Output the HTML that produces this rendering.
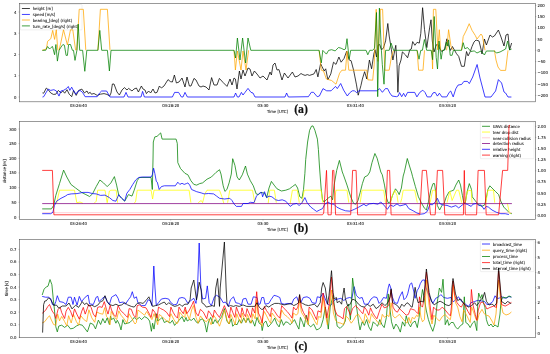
<!DOCTYPE html>
<html><head><meta charset="utf-8"><title>Figure</title>
<style>html,body{margin:0;padding:0;background:#fff}svg{display:block}text{stroke:#222;stroke-width:.1px}</style></head><body>
<svg width="550" height="354" viewBox="0 0 550 354" font-family="'DejaVu Sans','Liberation Sans',sans-serif" fill="#222">
<rect width="550" height="354" fill="#fff"/>
<g>
<polyline points="42.5,92.9 43.7,93.2 46.3,88.1 48.2,89.7 50.7,92.9 53.3,94.4 55.8,94.2 58.4,90.4 60.9,92.9 62.8,91.0 64.7,93.2 67.0,89.7 69.2,94.2 71.7,96.7 73.6,90.4 76.2,95.4 78.7,90.4 81.9,89.1 84.4,92.9 87.0,91.0 88.3,93.5 90.2,92.3 91.4,94.2 94.0,93.5 97.2,95.4 100.3,94.2 104.0,93.6 107.0,94.4 109.6,96.0 111.0,93.0 112.4,84.0 114.0,84.0 117.0,92.0 119.4,95.0 122.0,90.0 124.4,87.6 127.0,90.0 128.6,88.4 132.0,91.0 134.0,89.0 136.4,88.0 138.4,92.0 141.4,86.0 143.0,89.0 145.0,90.0 146.4,93.6 148.6,91.0 150.6,93.0 153.0,89.0 155.0,93.0 157.0,92.4 159.4,86.0 161.4,88.0 164.0,86.0 168.0,79.6 170.4,81.6 172.4,82.0 174.4,75.0 176.4,83.0 179.0,82.0 182.0,78.0 185.0,87.0 187.0,77.0 189.4,86.0 191.0,86.0 194.0,78.4 196.0,80.0 199.0,86.0 201.0,87.0 203.0,86.0 206.0,87.0 209.0,90.0 211.6,77.6 214.0,85.0 217.0,85.0 219.4,78.4 223.0,82.4 227.0,86.4 230.0,79.0 232.0,85.0 234.0,78.0 235.4,79.0 237.0,89.0 239.4,71.0 241.0,79.0 243.0,70.0 245.0,76.0 248.0,68.0 250.0,69.0 252.0,76.0 254.4,71.0 257.0,74.0 260.0,78.0 263.0,76.0 267.0,80.0 270.0,72.0 271.4,75.0 273.0,65.0 275.0,63.0 277.0,70.0 279.0,69.6 282.0,80.0 284.4,73.0 288.0,78.0 292.4,72.0 295.0,77.0 298.0,76.0 301.0,73.5 302.9,74.6 305.1,75.4 307.3,74.6 309.5,75.4 314.0,73.9 316.2,69.5 317.9,76.9 320.6,63.6 322.0,66.6 324.2,71.0 325.7,68.8 327.9,79.8 330.8,73.9 333.5,62.2 336.0,64.4 338.9,57.0 341.1,62.2 344.0,58.5 346.7,51.2 349.2,60.0 351.1,60.7 353.6,70.2 356.5,84.9 358.2,95.2 360.9,85.7 362.4,79.0 364.6,71.7 366.8,79.0 369.4,60.0 371.6,68.8 373.8,54.1 375.0,49.7 376.5,57.0 377.9,45.3 379.7,44.5 381.4,49.7 383.4,48.2 385.6,40.9 387.8,23.5 389.2,36.0 391.4,49.7 392.9,60.0 395.8,45.3 397.0,64.4 397.9,92.3 399.1,65.8 401.0,60.0 402.4,51.9 405.4,54.8 407.6,57.8 409.8,49.7 411.3,49.0 412.7,41.6 414.9,45.3 417.1,42.3 419.3,43.1 420.8,33.3 422.6,7.7 424.5,29.4 426.8,47.6 429.6,27.9 431.0,19.8 432.3,41.0 434.0,52.0 436.2,44.9 437.8,44.3 439.5,48.2 441.7,51.5 444.4,49.8 446.9,38.8 448.3,44.3 450.5,50.4 452.4,46.5 454.3,49.8 456.5,53.7 458.7,56.4 461.5,66.3 464.3,66.3 466.5,51.5 468.1,55.9 470.3,51.5 472.0,46.5 474.0,42.0 476.0,40.0 479.0,41.0 481.0,49.0 482.0,54.0 484.4,39.0 486.4,45.0 490.0,35.0 492.4,37.0 494.4,36.0 498.4,30.0 501.0,37.0 504.0,46.0 506.0,35.0 508.0,34.0 509.6,50.0 511.6,43.0" fill="none" stroke="#000000" stroke-width="0.75" stroke-linejoin="round"/>
<polyline points="42.5,97.0 43.7,96.7 45.9,92.9 48.2,89.1 50.7,90.4 53.9,89.7 56.4,91.0 59.0,96.1 60.9,91.0 63.4,90.4 66.2,88.8 68.3,86.5 69.8,90.4 71.7,87.2 73.6,91.0 75.8,94.2 77.7,91.6 80.0,90.4 82.5,92.3 85.1,96.7 97.2,96.7 99.7,92.9 101.6,91.0 106.6,91.0 110.0,97.0 124.0,97.0 126.0,92.4 128.0,97.0 141.0,97.0 142.6,91.4 144.4,97.0 172.4,97.0 174.6,92.4 178.6,92.4 181.4,97.0 183.0,97.0 185.0,92.4 187.4,97.0 234.0,97.0 235.6,93.0 237.4,97.0 239.0,97.0 241.4,92.4 243.0,95.0 245.0,92.4 248.0,88.4 251.0,92.4 253.0,93.0 255.0,97.0 285.0,97.0 286.6,93.0 288.4,97.0 308.4,96.7 311.3,92.3 313.5,92.3 317.2,96.7 319.4,96.0 323.0,88.6 326.7,90.8 331.1,90.8 335.5,86.4 337.3,88.6 340.7,83.5 343.6,90.1 347.3,96.0 349.5,93.0 352.3,90.8 354.6,90.8 356.4,92.6 359.0,90.8 377.3,90.8 379.5,88.6 382.4,92.3 385.4,88.6 387.6,88.6 389.8,93.0 392.0,96.0 396.4,96.7 398.2,96.0 399.6,92.6 401.7,96.7 403.6,93.3 405.4,96.7 407.6,92.4 414.7,92.4 416.9,96.9 419.8,92.4 422.8,90.2 425.0,92.4 427.2,96.9 430.8,96.9 433.0,92.9 435.2,92.4 437.4,96.1 439.4,93.2 441.9,96.9 446.7,96.9 449.2,92.4 450.7,91.0 453.2,96.9 455.8,88.8 458.0,85.1 461.7,84.4 463.9,81.4 467.5,81.4 469.3,83.6 472.7,77.0 477.1,64.5 480.0,78.0 485.0,97.0 491.0,97.0 494.0,93.0 495.6,91.0 498.4,79.6 501.6,83.0 504.0,92.0 505.6,93.0 508.0,97.0 511.4,97.0" fill="none" stroke="#0000ff" stroke-width="0.75" stroke-linejoin="round"/>
<rect x="19.5" y="3.3" width="515.8" height="98.5" fill="none" stroke="#555" stroke-width="0.6"/>
<path d="M18.5,97H19.5 M18.5,75.7H19.5 M18.5,54.5H19.5 M18.5,33.2H19.5 M18.5,12H19.5 M535.3,5.4H536.3 M535.3,16.6H536.3 M535.3,27.9H536.3 M535.3,39.1H536.3 M535.3,50.4H536.3 M535.3,61.6H536.3 M535.3,72.9H536.3 M535.3,84.1H536.3 M535.3,95.4H536.3 M78.4,101.8V102.8 M170.7,101.8V102.8 M263,101.8V102.8 M355.3,101.8V102.8 M447.6,101.8V102.8" stroke="#555" stroke-width="0.35" fill="none"/>
<text transform="translate(16.4,98.5) scale(0.93,1)" font-size="4.1" text-anchor="end" >0</text>
<text transform="translate(16.4,77.2) scale(0.93,1)" font-size="4.1" text-anchor="end" >1</text>
<text transform="translate(16.4,56.0) scale(0.93,1)" font-size="4.1" text-anchor="end" >2</text>
<text transform="translate(16.4,34.7) scale(0.93,1)" font-size="4.1" text-anchor="end" >3</text>
<text transform="translate(16.4,13.5) scale(0.93,1)" font-size="4.1" text-anchor="end" >4</text>
<text transform="translate(537.5,6.9) scale(0.93,1)" font-size="4.1" text-anchor="start" >200</text>
<text transform="translate(537.5,18.1) scale(0.93,1)" font-size="4.1" text-anchor="start" >150</text>
<text transform="translate(537.5,29.4) scale(0.93,1)" font-size="4.1" text-anchor="start" >100</text>
<text transform="translate(537.5,40.6) scale(0.93,1)" font-size="4.1" text-anchor="start" >50</text>
<text transform="translate(537.5,51.9) scale(0.93,1)" font-size="4.1" text-anchor="start" >0</text>
<text transform="translate(537.5,63.1) scale(0.93,1)" font-size="4.1" text-anchor="start" >−50</text>
<text transform="translate(537.5,74.4) scale(0.93,1)" font-size="4.1" text-anchor="start" >−100</text>
<text transform="translate(537.5,85.6) scale(0.93,1)" font-size="4.1" text-anchor="start" >−150</text>
<text transform="translate(537.5,96.9) scale(0.93,1)" font-size="4.1" text-anchor="start" >−200</text>
<text transform="translate(78.4,107.4) scale(0.93,1)" font-size="4.1" text-anchor="middle" >03:26:40</text>
<text transform="translate(170.7,107.4) scale(0.93,1)" font-size="4.1" text-anchor="middle" >03:28:20</text>
<text transform="translate(263.0,107.4) scale(0.93,1)" font-size="4.1" text-anchor="middle" >03:30</text>
<text transform="translate(355.3,107.4) scale(0.93,1)" font-size="4.1" text-anchor="middle" >03:31:40</text>
<text transform="translate(447.6,107.4) scale(0.93,1)" font-size="4.1" text-anchor="middle" >03:33:20</text>
<text transform="translate(277.4,112.7) scale(0.93,1)" font-size="4.1" text-anchor="middle" >Time [UTC]</text>
<rect x="20.3" y="4.5" width="61.7" height="25.4" rx="0.6" fill="#fff" fill-opacity="0.8" stroke="#ccc" stroke-width="0.3"/>
<path d="M21.900000000000002,8.5H29.9" stroke="#000000" stroke-width="0.75"/>
<text transform="translate(32.7,10.2) scale(0.93,1)" font-size="4.1" text-anchor="start" >height [m]</text>
<path d="M21.900000000000002,14.45H29.9" stroke="#0000ff" stroke-width="0.75"/>
<text transform="translate(32.7,16.2) scale(0.93,1)" font-size="4.1" text-anchor="start" >speed [m/s]</text>
<path d="M21.900000000000002,20.0H29.9" stroke="#ffa500" stroke-width="0.75"/>
<text transform="translate(32.7,21.7) scale(0.93,1)" font-size="4.1" text-anchor="start" >bearing_[deg] (right)</text>
<path d="M21.900000000000002,25.9H29.9" stroke="#008000" stroke-width="0.75"/>
<text transform="translate(32.7,27.6) scale(0.93,1)" font-size="4.1" text-anchor="start" >turn_rate_[deg/s] (right)</text>
<polyline points="42.4,50.3 46.4,48.9 47.6,41.3 50.8,38.7 52.7,30.4 54.6,39.4 56.3,29.8 57.8,50.3" fill="none" stroke="#ffa500" stroke-width="0.75" stroke-linejoin="round"/><polyline points="59.1,50.3 61.0,41.9 63.5,29.8 67.4,45.0 70.5,29.8 72.8,29.8 75.6,50.3" fill="none" stroke="#ffa500" stroke-width="0.75" stroke-linejoin="round"/><polyline points="76.9,50.3 79.2,9.3 83.3,9.3 85.8,50.3" fill="none" stroke="#ffa500" stroke-width="0.75" stroke-linejoin="round"/><polyline points="97.9,50.3 100.4,9.3 107.4,9.3 110.0,50.3" fill="none" stroke="#ffa500" stroke-width="0.75" stroke-linejoin="round"/><polyline points="234.0,50.3 235.4,70.0 237.4,51.0 241.0,70.0 243.0,51.0 246.0,70.0 248.6,50.3" fill="none" stroke="#ffa500" stroke-width="0.75" stroke-linejoin="round"/><polyline points="319.1,50.3 321.3,70.2 323.5,71.0 326.4,79.0 331.6,80.5 336.0,84.2 339.6,73.2 341.9,70.2 345.5,70.2 347.0,51.2 348.8,70.2 366.8,70.2 367.8,79.8 372.7,80.2 374.2,64.4 376.2,9.3 377.9,61.4 380.4,9.3 382.6,9.3 384.1,50.3 384.8,70.2 389.2,70.2 391.4,57.0 393.6,50.3" fill="none" stroke="#ffa500" stroke-width="0.75" stroke-linejoin="round"/><polyline points="417.1,50.3 418.6,70.2 423.0,70.2 424.5,50.3" fill="none" stroke="#ffa500" stroke-width="0.75" stroke-linejoin="round"/><polyline points="431.8,50.3 432.6,69.0 433.4,9.3 435.8,9.3 437.3,39.0 437.7,49.8 439.3,29.7 440.6,49.8 441.5,50.3" fill="none" stroke="#ffa500" stroke-width="0.75" stroke-linejoin="round"/><polyline points="446.6,50.3 448.6,29.7 451.0,46.5 453.2,50.3" fill="none" stroke="#ffa500" stroke-width="0.75" stroke-linejoin="round"/><polyline points="461.5,50.3 463.2,36.6 466.5,30.0 469.2,23.7 472.0,30.3 475.3,35.5 477.0,39.0 481.0,34.0 482.4,36.0 485.0,50.3" fill="none" stroke="#ffa500" stroke-width="0.75" stroke-linejoin="round"/><polyline points="494.4,50.3 496.0,60.0 498.0,67.0 500.5,70.4 505.6,70.4 508.0,50.3" fill="none" stroke="#ffa500" stroke-width="0.75" stroke-linejoin="round"/>
<polyline points="42.3,50.3 45.7,50.3 47.6,46.5 49.5,49.0 50.8,47.7 52.5,46.5 54.6,54.7 55.9,44.5 57.4,61.1 59.1,50.3 61.0,47.1 62.9,44.5 64.4,45.2 66.1,55.4 67.4,55.4 68.6,44.5 70.5,44.5 72.4,50.3 73.5,50.3 75.0,60.4 76.9,50.3 78.2,24.1 79.7,50.3 82.6,50.3 84.8,71.3 86.8,50.3 97.9,50.3 99.8,30.4 101.7,50.3 107.4,50.3 109.4,71.0 111.0,50.3 234.0,50.3 235.6,58.0 237.4,38.0 240.0,60.0 242.6,38.0 245.6,63.0 248.0,38.0 250.8,50.3 319.1,50.3 321.3,62.9 322.8,50.4 326.4,54.1 328.6,50.4 331.6,49.7 335.2,50.9 338.5,47.5 341.1,48.2 344.0,49.7 345.5,49.0 347.0,38.7 349.2,59.2 350.7,50.3 366.1,50.3 367.8,54.8 369.8,50.3 372.7,50.3 374.5,48.2 376.5,12.5 377.7,96.7 379.4,8.1 381.4,50.3 382.3,64.4 384.0,84.2 385.6,50.3 389.2,50.3 391.1,43.1 393.6,50.3 417.1,50.3 419.0,59.2 420.8,50.3 422.4,50.3 424.4,39.5 426.7,50.3 431.2,50.3 432.6,59.7 434.2,16.5 436.2,57.5 437.5,69.0 439.0,41.0 441.1,59.2 442.6,50.3 445.0,49.8 446.4,42.1 447.3,46.0 448.6,39.9 450.2,55.3 452.1,55.3 453.4,50.3 461.5,50.3 463.2,42.7 464.8,48.7 467.6,47.6 470.9,51.5 474.2,50.9 477.0,53.0 481.0,51.0 484.4,55.0 486.4,51.0 494.4,51.0 496.4,53.0 500.0,52.0 505.6,49.0 507.6,41.0 509.6,50.0 511.6,49.0" fill="none" stroke="#008000" stroke-width="0.75" stroke-linejoin="round"/>
<text x="301" y="112.5" font-family="'Liberation Serif','DejaVu Serif',serif" font-weight="bold" font-size="11.7" text-anchor="middle" fill="#111" style="stroke:#111;stroke-width:.2px">(a)</text>
</g>
<g>
<polyline points="42.2,208.9 51.4,208.9 53.6,205.6 55.8,195.4 59.5,183.6 63.6,170.1 66.8,177.0 70.9,184.4 75.6,188.0 81.5,192.4 85.9,194.6 89.6,196.5 92.5,193.9 96.2,186.6 99.9,180.0 103.5,182.9 107.2,186.6 110.9,182.9 114.4,176.6 116.6,185.1 118.8,195.4 121.7,198.3 124.7,201.2 128.4,194.6 132.0,196.1 134.2,190.2 137.2,180.7 139.4,177.5 151.1,177.5 152.3,189.5 153.0,160.0 153.3,142.0 154.8,136.9 157.0,136.4 160.7,132.9 162.1,139.1 176.1,139.1 177.3,143.5 177.8,162.6 180.5,168.5 184.9,173.3 187.9,174.8 190.9,180.7 193.8,184.4 196.7,185.1 199.7,183.6 202.6,182.9 207.0,179.2 211.4,177.0 215.8,172.6 219.5,169.7 221.0,174.1 223.2,185.8 224.9,191.4 226.9,189.5 229.1,182.9 231.3,174.1 232.7,158.7 234.9,165.3 237.1,177.0 239.3,180.0 242.3,174.8 245.5,166.0 247.4,174.1 250.3,180.7 253.3,185.8 256.2,193.9 258.4,194.6 260.9,192.4 264.5,193.2 266.7,197.6 269.0,188.0 271.4,181.4 274.1,185.1 277.0,188.8 281.4,191.0 285.8,190.2 289.5,188.8 292.4,186.6 295.4,184.4 297.6,188.0 299.8,196.8 302.0,198.3 303.5,189.5 304.9,173.3 305.7,159.6 307.6,142.0 309.6,130.3 311.5,126.2 313.0,125.9 314.9,130.3 317.4,139.1 318.4,149.4 319.3,164.0 319.8,171.0 321.1,188.0 322.5,199.8 324.0,202.0 327.9,198.3 330.9,196.1 332.6,199.8 334.1,185.1 336.7,170.4 339.4,160.4 342.3,172.0 343.4,174.8 347.0,185.1 350.7,196.8 353.6,203.4 355.8,204.2 358.0,200.5 360.2,192.4 362.4,183.6 364.6,177.0 367.6,175.5 369.8,171.9 372.0,162.6 374.9,153.5 377.1,158.2 380.8,172.0 382.3,174.8 384.5,185.1 386.7,198.3 388.1,202.7 390.3,202.0 392.5,195.4 395.5,188.8 397.7,191.7 399.2,194.6 401.4,188.0 403.2,176.0 404.4,171.9 407.3,158.5 409.5,166.0 411.7,173.0 412.5,176.3 415.4,186.6 418.4,196.8 421.3,202.7 424.2,207.9 426.4,210.0 428.6,201.2 430.8,190.2 433.0,183.6 434.5,183.6 436.0,193.9 437.4,205.6 439.6,210.0 441.9,205.6 444.1,203.4 446.3,196.8 449.2,191.7 451.4,191.0 453.6,190.2 455.8,185.1 458.7,180.0 460.5,185.1 462.4,195.4 463.9,203.4 465.3,202.7 467.3,191.0 469.3,183.6 471.5,189.5 472.2,196.8 475.1,200.5 478.1,204.2 481.7,206.4 484.7,204.9 486.2,198.3 487.9,189.5 489.8,185.8 492.0,188.0 495.7,191.7 498.6,194.6 500.8,201.2 503.8,207.1 506.7,210.0 509.6,213.0 511.9,213.7" fill="none" stroke="#008000" stroke-width="0.75" stroke-linejoin="round"/>
<polyline points="56.6,203.4 59.5,190.2 74.5,190.2 76.8,202.7 80.0,202.0 83.0,203.4" fill="none" stroke="#ffff00" stroke-width="0.75" stroke-linejoin="round"/><polyline points="94.0,203.4 96.2,201.2 97.7,190.2 105.0,190.2 107.2,202.7 109.4,191.0 110.9,190.2 116.2,190.2 117.6,202.7" fill="none" stroke="#ffff00" stroke-width="0.75" stroke-linejoin="round"/><polyline points="134.2,203.4 135.7,201.2 137.2,190.2 151.1,190.2 152.6,199.0 154.0,190.2 189.1,190.2 190.9,202.7" fill="none" stroke="#ffff00" stroke-width="0.75" stroke-linejoin="round"/><polyline points="198.2,202.7 201.2,200.5 202.6,202.7 204.8,193.9 207.0,190.2 219.5,190.2 221.7,196.1 223.9,203.5" fill="none" stroke="#ffff00" stroke-width="0.75" stroke-linejoin="round"/><polyline points="227.6,202.7 229.8,190.2 252.5,190.2 254.8,202.7" fill="none" stroke="#ffff00" stroke-width="0.75" stroke-linejoin="round"/><polyline points="268.2,203.4 269.7,190.2 274.4,190.2 276.3,202.7" fill="none" stroke="#ffff00" stroke-width="0.75" stroke-linejoin="round"/><polyline points="290.2,203.4 292.4,190.2 297.3,190.2 299.3,202.7" fill="none" stroke="#ffff00" stroke-width="0.75" stroke-linejoin="round"/><polyline points="302.0,202.7 304.2,190.2 321.1,190.2 322.8,202.7" fill="none" stroke="#ffff00" stroke-width="0.75" stroke-linejoin="round"/><polyline points="334.1,202.7 336.0,190.2 347.0,190.2 348.8,202.7" fill="none" stroke="#ffff00" stroke-width="0.75" stroke-linejoin="round"/><polyline points="360.2,202.7 362.0,190.2 383.7,190.2 385.5,202.7" fill="none" stroke="#ffff00" stroke-width="0.75" stroke-linejoin="round"/><polyline points="390.3,202.7 392.5,195.4 394.8,190.2 397.0,195.4 398.1,202.7" fill="none" stroke="#ffff00" stroke-width="0.75" stroke-linejoin="round"/><polyline points="400.6,202.7 401.8,198.3 403.2,190.2 414.7,190.2 417.3,202.7" fill="none" stroke="#ffff00" stroke-width="0.75" stroke-linejoin="round"/><polyline points="430.1,202.7 432.6,190.2 435.2,190.2 436.4,202.7" fill="none" stroke="#ffff00" stroke-width="0.75" stroke-linejoin="round"/><polyline points="447.0,202.7 449.9,191.0 452.1,200.5 456.5,190.2 458.7,190.2 461.7,202.7" fill="none" stroke="#ffff00" stroke-width="0.75" stroke-linejoin="round"/><polyline points="465.3,202.7 467.3,191.0 471.2,190.2 472.0,202.7" fill="none" stroke="#ffff00" stroke-width="0.75" stroke-linejoin="round"/><polyline points="485.9,202.7 487.9,190.2 493.5,190.2 494.7,202.7" fill="none" stroke="#ffff00" stroke-width="0.75" stroke-linejoin="round"/><polyline points="507.4,203.4 509.4,213.0 511.1,213.3" fill="none" stroke="#ffff00" stroke-width="0.75" stroke-linejoin="round"/>
<polyline points="42.2,212.7 511.9,212.7" fill="none" stroke="#ffc0cb" stroke-width="0.75" stroke-linejoin="round"/>
<polyline points="42.2,203.6 511.9,203.6" fill="none" stroke="#800080" stroke-width="0.75" stroke-linejoin="round"/>
<polyline points="42.2,213.7 50.7,213.7 52.9,212.3 54.4,205.6 56.6,201.2 61.0,198.3 65.4,196.1 67.6,194.6 71.2,193.9 77.1,193.6 83.0,192.4 88.1,192.4 92.5,193.6 96.2,193.9 100.6,195.4 105.0,195.1 109.4,197.6 112.9,200.5 115.9,201.2 118.8,194.6 121.7,198.3 124.7,200.9 126.9,193.2 129.8,189.5 132.8,184.4 135.7,180.0 138.6,177.5 142.3,177.0 151.1,177.0 152.3,174.8 153.6,168.2 154.8,173.3 156.3,181.4 157.3,182.2 159.2,189.5 161.4,186.6 164.3,185.8 175.3,185.8 177.8,182.2 179.8,184.4 182.0,183.3 184.2,184.4 186.4,183.6 187.9,182.9 189.7,185.1 191.6,189.5 196.7,191.7 201.2,192.9 204.1,193.9 208.5,193.5 213.6,193.9 216.6,196.1 219.5,198.3 224.6,199.0 229.8,198.3 232.0,200.5 234.2,204.2 236.4,206.4 241.5,206.4 243.0,203.5 248.1,203.5 250.3,202.3 254.0,202.7 256.5,196.1 259.4,193.2 261.6,192.4 262.6,196.8 264.5,191.7 266.7,197.6 269.0,196.1 271.9,196.8 275.6,199.8 278.5,200.5 282.2,199.8 285.8,201.2 290.2,206.4 293.2,204.2 296.9,203.4 299.1,205.6 302.0,202.7 304.9,197.6 307.1,202.7 310.8,207.1 313.7,209.3 316.7,211.5 319.6,210.0 322.5,208.6 324.8,204.2 327.9,202.0 330.9,203.9 333.8,204.2 336.7,207.1 341.2,209.3 345.6,210.8 350.0,211.2 354.4,209.3 358.8,207.1 363.9,204.2 366.1,205.9 369.1,203.9 373.5,203.4 377.9,204.2 380.8,202.0 383.7,204.9 387.4,209.3 390.3,204.9 393.3,206.4 397.0,203.9 399.9,205.9 403.7,204.9 405.9,204.2 408.8,208.6 413.2,210.8 416.9,213.0 420.6,214.2 424.2,213.7 427.2,211.5 430.1,204.2 432.3,204.9 435.2,202.0 437.4,198.3 439.6,203.4 442.6,204.9 447.0,205.4 451.4,207.1 455.8,205.6 458.7,207.9 462.4,204.9 464.6,203.4 467.5,204.5 471.2,206.4 472.9,204.2 476.6,203.4 478.8,205.6 481.0,204.9 484.0,209.3 486.2,206.4 488.4,207.1 492.0,210.0 496.4,212.3 500.8,213.7 505.2,213.7 508.9,214.5" fill="none" stroke="#0000ff" stroke-width="0.75" stroke-linejoin="round"/>
<rect x="19.5" y="121.3" width="515.8" height="98.2" fill="none" stroke="#555" stroke-width="0.6"/>
<path d="M18.5,217H19.5 M18.5,202.3H19.5 M18.5,187.6H19.5 M18.5,172.9H19.5 M18.5,158.3H19.5 M18.5,143.6H19.5 M18.5,129H19.5 M535.3,215.3H536.3 M535.3,204.175H536.3 M535.3,193.05H536.3 M535.3,181.925H536.3 M535.3,170.8H536.3 M535.3,159.675H536.3 M535.3,148.55H536.3 M535.3,137.425H536.3 M535.3,126.30000000000001H536.3 M78.4,219.5V220.5 M170.7,219.5V220.5 M263,219.5V220.5 M355.3,219.5V220.5 M447.6,219.5V220.5" stroke="#555" stroke-width="0.35" fill="none"/>
<text transform="translate(16.4,218.5) scale(0.93,1)" font-size="4.1" text-anchor="end" >0</text>
<text transform="translate(16.4,203.8) scale(0.93,1)" font-size="4.1" text-anchor="end" >50</text>
<text transform="translate(16.4,189.1) scale(0.93,1)" font-size="4.1" text-anchor="end" >100</text>
<text transform="translate(16.4,174.4) scale(0.93,1)" font-size="4.1" text-anchor="end" >150</text>
<text transform="translate(16.4,159.8) scale(0.93,1)" font-size="4.1" text-anchor="end" >200</text>
<text transform="translate(16.4,145.1) scale(0.93,1)" font-size="4.1" text-anchor="end" >250</text>
<text transform="translate(16.4,130.5) scale(0.93,1)" font-size="4.1" text-anchor="end" >300</text>
<text transform="translate(537.5,216.8) scale(0.93,1)" font-size="4.1" text-anchor="start" >0.00</text>
<text transform="translate(537.5,205.7) scale(0.93,1)" font-size="4.1" text-anchor="start" >0.25</text>
<text transform="translate(537.5,194.5) scale(0.93,1)" font-size="4.1" text-anchor="start" >0.50</text>
<text transform="translate(537.5,183.4) scale(0.93,1)" font-size="4.1" text-anchor="start" >0.75</text>
<text transform="translate(537.5,172.3) scale(0.93,1)" font-size="4.1" text-anchor="start" >1.00</text>
<text transform="translate(537.5,161.2) scale(0.93,1)" font-size="4.1" text-anchor="start" >1.25</text>
<text transform="translate(537.5,150.0) scale(0.93,1)" font-size="4.1" text-anchor="start" >1.50</text>
<text transform="translate(537.5,138.9) scale(0.93,1)" font-size="4.1" text-anchor="start" >1.75</text>
<text transform="translate(537.5,127.8) scale(0.93,1)" font-size="4.1" text-anchor="start" >2.00</text>
<text transform="translate(78.4,225.2) scale(0.93,1)" font-size="4.1" text-anchor="middle" >03:26:40</text>
<text transform="translate(170.7,225.2) scale(0.93,1)" font-size="4.1" text-anchor="middle" >03:28:20</text>
<text transform="translate(263.0,225.2) scale(0.93,1)" font-size="4.1" text-anchor="middle" >03:30</text>
<text transform="translate(355.3,225.2) scale(0.93,1)" font-size="4.1" text-anchor="middle" >03:31:40</text>
<text transform="translate(447.6,225.2) scale(0.93,1)" font-size="4.1" text-anchor="middle" >03:33:20</text>
<text transform="translate(277.4,230.7) scale(0.93,1)" font-size="4.1" text-anchor="middle" >Time [UTC]</text>
<text transform="translate(6.3,171.3) rotate(-90) scale(0.93,1)" font-size="4.1" text-anchor="middle">distance [m]</text>
<rect x="480.4" y="122" width="53.60000000000002" height="36.69999999999999" rx="0.6" fill="#fff" fill-opacity="0.8" stroke="#ccc" stroke-width="0.3"/>
<path d="M482.0,126.3H490.0" stroke="#008000" stroke-width="0.75"/>
<text transform="translate(492.8,128.0) scale(0.93,1)" font-size="4.1" text-anchor="start" >UAVs distance</text>
<path d="M482.0,132.05H490.0" stroke="#ffff00" stroke-width="0.75"/>
<text transform="translate(492.8,133.8) scale(0.93,1)" font-size="4.1" text-anchor="start" >tear drop dist</text>
<path d="M482.0,137.8H490.0" stroke="#ffc0cb" stroke-width="0.75"/>
<text transform="translate(492.8,139.5) scale(0.93,1)" font-size="4.1" text-anchor="start" >near-collision radius</text>
<path d="M482.0,143.5H490.0" stroke="#800080" stroke-width="0.75"/>
<text transform="translate(492.8,145.2) scale(0.93,1)" font-size="4.1" text-anchor="start" >detection radius</text>
<path d="M482.0,149.3H490.0" stroke="#0000ff" stroke-width="0.75"/>
<text transform="translate(492.8,151.0) scale(0.93,1)" font-size="4.1" text-anchor="start" >relative height</text>
<path d="M482.0,155.1H490.0" stroke="#ff0000" stroke-width="0.75"/>
<text transform="translate(492.8,156.8) scale(0.93,1)" font-size="4.1" text-anchor="start" >warning (right)</text>
<polyline points="42.2,170.4 52.4,170.4 53.9,214.8 322.5,214.8 323.7,213.0 326.5,170.4 328.0,214.8 331.2,214.8 332.6,170.4 333.8,170.4 335.6,214.8 350.7,214.8 352.6,170.4 356.1,170.4 357.6,214.8 385.9,214.8 387.4,170.4 389.6,170.4 391.1,214.8 419.8,214.8 422.3,170.4 426.4,170.4 430.5,214.8 435.2,214.8 437.4,170.4 442.6,170.4 444.8,214.8 463.4,214.8 464.3,170.4 465.3,214.8 476.6,214.8 478.1,170.4 484.4,170.4 486.2,214.8 498.6,214.8 502.6,170.4 507.7,170.4 509.0,125.4 509.8,125.4" fill="none" stroke="#ff0000" stroke-width="0.75" stroke-linejoin="round"/>
<text x="301" y="231.6" font-family="'Liberation Serif','DejaVu Serif',serif" font-weight="bold" font-size="11.7" text-anchor="middle" fill="#111" style="stroke:#111;stroke-width:.2px">(b)</text>
</g>
<g>
<polyline points="42.2,296.4 45.5,297.2 48.5,297.2 50.7,298.6 52.4,304.5 54.4,305.2 55.8,301.6 57.3,295.7 59.5,301.6 63.2,302.3 66.1,304.5 68.3,297.2 71.2,297.2 73.0,304.5 74.5,297.2 77.1,305.2 79.3,296.4 81.5,301.6 85.2,297.2 88.1,295.0 89.6,303.8 93.3,304.5 96.2,297.2 97.7,296.4 99.1,301.6 102.1,298.6 105.0,296.4 107.2,301.6 109.4,304.5 111.6,297.2 112.2,296.8 115.9,294.6 118.1,298.3 119.5,302.7 123.2,302.0 125.4,304.2 128.4,299.7 130.6,296.8 132.3,291.7 134.2,298.3 136.4,296.8 137.9,302.7 141.6,305.6 145.2,305.6 148.2,299.7 150.4,301.2 151.9,305.6 152.9,288.0 153.8,266.0 155.0,288.0 156.3,305.6 158.5,302.7 161.4,299.0 165.1,298.3 168.7,299.0 170.9,302.7 173.9,304.9 176.8,304.2 179.0,298.3 182.0,297.5 184.9,298.3 187.9,303.4 190.9,300.5 193.8,298.3 196.0,303.4 197.5,288.0 199.2,243.0 200.9,288.0 202.6,299.0 205.6,298.3 207.3,285.9 209.2,302.7 211.4,305.6 214.4,296.8 216.6,295.3 220.2,297.5 223.2,302.7 225.4,302.0 228.3,306.4 230.5,299.7 233.5,296.8 235.7,302.7 238.6,303.4 241.5,304.9 243.0,299.0 245.9,298.3 248.1,304.2 251.1,304.2 253.3,296.8 257.0,297.5 258.4,304.2 260.0,304.2 261.8,297.5 263.7,297.5 265.1,304.2 268.8,303.4 271.0,299.7 274.0,295.3 276.9,296.1 279.8,297.5 281.3,303.4 284.2,304.2 287.9,303.4 291.6,304.2 293.8,299.0 296.7,296.8 298.9,302.7 301.1,302.0 303.3,297.5 307.0,296.8 309.9,298.3 312.1,302.7 315.8,303.4 317.3,296.8 320.2,297.5 323.1,293.1 325.3,299.0 327.5,304.2 330.5,305.6 332.7,302.7 334.9,299.7 337.9,299.0 340.9,298.3 343.8,300.5 346.7,298.3 349.7,297.5 351.9,298.3 354.1,286.6 356.3,295.3 359.2,298.3 362.2,297.5 364.4,304.2 368.0,304.2 371.0,299.0 373.9,296.8 376.9,297.5 379.1,303.4 381.3,301.2 383.5,297.5 386.4,298.3 388.2,288.0 389.3,283.9 390.8,288.0 392.3,296.8 394.5,302.7 397.4,303.4 399.6,296.8 402.3,291.7 404.0,299.7 406.2,297.5 407.7,293.9 409.9,284.4 411.7,282.9 413.7,291.0 415.1,298.3 417.3,290.2 418.8,288.0 420.3,283.6 422.5,280.0 424.7,280.0 425.9,287.0 427.6,292.4 430.6,298.3 432.8,303.4 435.7,298.3 438.6,296.8 440.8,294.6 443.8,297.5 447.4,298.3 451.1,297.5 453.3,302.0 455.5,299.7 458.5,296.8 460.7,300.5 463.6,302.7 466.5,304.9 468.7,306.4 470.9,302.7 474.4,301.6 478.1,300.2 481.0,300.9 484.7,301.6 486.9,304.6 489.8,303.9 492.8,301.6 495.0,295.8 497.2,298.7 499.4,298.0 501.6,296.5 503.8,298.0 506.7,298.0 508.9,296.5 511.4,297.2" fill="none" stroke="#0000ff" stroke-width="0.75" stroke-linejoin="round"/>
<polyline points="42.2,295.0 44.1,289.1 46.3,286.9 48.0,286.2 50.0,279.5 51.9,284.7 53.3,299.4 54.4,309.1 55.8,326.7 57.3,331.9 58.8,326.0 61.7,325.2 64.6,327.4 67.6,325.2 70.5,328.9 73.4,328.2 76.4,326.0 79.3,324.5 82.3,325.2 85.2,328.9 87.4,331.9 90.3,323.0 93.3,324.5 95.5,328.9 98.4,320.1 100.6,324.5 102.8,318.6 105.0,323.0 107.2,317.9 109.4,324.5 110.5,316.0 111.5,319.6 113.7,318.1 115.9,323.2 117.3,320.3 119.5,324.7 121.0,329.9 122.9,319.6 124.7,324.0 127.6,323.2 129.8,322.5 132.0,320.3 134.2,317.4 136.4,319.6 139.4,317.4 141.6,319.6 144.5,316.6 147.4,318.1 149.6,321.0 151.4,331.3 152.6,323.2 154.0,329.1 156.3,313.7 157.7,321.0 159.9,319.6 162.1,317.4 164.3,322.5 167.3,321.0 170.2,323.2 172.4,320.3 174.6,325.4 177.5,321.8 179.8,319.6 182.0,316.6 184.2,321.8 186.0,317.4 187.2,321.0 189.4,319.6 191.6,320.3 193.8,318.1 196.0,321.8 198.2,323.2 200.4,319.6 202.6,318.8 204.8,323.2 206.7,332.1 208.5,321.8 210.7,317.4 212.9,324.0 215.1,319.6 217.3,323.2 219.5,319.6 221.7,316.6 224.4,308.6 226.9,321.0 229.1,324.0 231.3,318.8 232.7,326.2 234.9,324.0 237.1,324.7 239.3,319.6 241.5,323.2 243.7,318.1 245.9,322.5 248.1,318.1 250.3,323.2 252.5,320.3 254.8,326.2 257.0,317.4 259.2,323.2 261.4,324.7 262.2,330.6 263.7,323.2 265.9,321.0 268.1,326.9 270.3,324.7 272.5,321.8 274.7,318.1 276.9,324.0 279.1,326.9 281.3,319.6 283.5,325.4 285.7,321.8 287.9,322.5 290.1,324.7 292.3,322.5 294.5,319.6 296.7,324.7 298.9,329.1 300.4,317.4 302.6,322.5 304.1,326.9 306.3,315.2 308.5,324.7 310.7,326.9 313.6,324.0 316.5,329.9 318.7,329.1 320.9,326.9 323.1,319.6 325.3,307.1 326.8,317.4 328.3,329.1 330.2,307.1 332.0,299.7 333.1,295.3 334.9,310.0 337.2,326.2 340.1,328.4 343.1,325.4 345.3,321.0 346.7,307.1 348.5,304.2 350.4,319.6 351.4,302.7 352.6,278.1 355.6,301.2 357.0,310.0 358.5,321.8 360.0,329.9 362.2,321.8 364.4,325.4 366.6,319.6 368.8,326.9 371.0,330.6 373.2,321.8 375.4,324.0 377.6,326.2 379.8,319.6 382.0,324.7 384.2,327.6 386.4,317.4 388.2,293.9 390.1,310.0 391.5,321.8 393.7,329.1 395.9,324.0 398.1,326.9 400.3,332.1 402.5,321.8 404.8,326.2 406.2,315.9 408.4,323.2 410.6,326.9 412.2,323.2 415.1,321.0 417.3,327.6 419.1,317.4 420.6,302.7 422.5,289.5 424.0,296.8 426.2,310.0 428.4,319.6 430.6,326.2 432.8,331.3 435.0,324.0 437.2,302.7 439.4,288.0 441.6,292.4 443.0,279.2 444.5,302.7 445.2,324.7 447.4,319.6 448.9,325.4 451.1,322.5 453.3,322.5 455.5,326.9 457.7,329.1 460.7,325.4 462.9,324.0 464.3,296.8 465.8,322.5 468.0,324.0 470.2,327.6 472.4,323.2 474.6,321.0 476.8,330.6 477.8,302.7 478.7,293.1 480.5,298.3 482.0,294.6 483.4,302.7 484.9,307.1 486.4,319.6 487.8,324.0 489.0,326.0 491.0,324.0 493.0,327.0 495.0,325.0 498.0,327.0 500.0,314.0 501.0,301.0 503.0,297.0 506.0,298.0 509.0,296.0 511.4,297.0" fill="none" stroke="#008000" stroke-width="0.75" stroke-linejoin="round"/>
<rect x="19.5" y="239.3" width="515.8" height="98.39999999999998" fill="none" stroke="#555" stroke-width="0.6"/>
<path d="M18.5,337.2H19.5 M18.5,324.65999999999997H19.5 M18.5,312.12H19.5 M18.5,299.58H19.5 M18.5,287.03999999999996H19.5 M18.5,274.5H19.5 M18.5,261.96H19.5 M18.5,249.42H19.5 M535.3,333.1H536.3 M535.3,317.95000000000005H536.3 M535.3,302.8H536.3 M535.3,287.65000000000003H536.3 M535.3,272.5H536.3 M535.3,257.35H536.3 M535.3,242.20000000000002H536.3 M78.4,337.7V338.7 M170.7,337.7V338.7 M263,337.7V338.7 M355.3,337.7V338.7 M447.6,337.7V338.7" stroke="#555" stroke-width="0.35" fill="none"/>
<text transform="translate(16.4,338.7) scale(0.93,1)" font-size="4.1" text-anchor="end" >0.0</text>
<text transform="translate(16.4,326.1) scale(0.93,1)" font-size="4.1" text-anchor="end" >0.1</text>
<text transform="translate(16.4,313.6) scale(0.93,1)" font-size="4.1" text-anchor="end" >0.2</text>
<text transform="translate(16.4,301.1) scale(0.93,1)" font-size="4.1" text-anchor="end" >0.3</text>
<text transform="translate(16.4,288.5) scale(0.93,1)" font-size="4.1" text-anchor="end" >0.4</text>
<text transform="translate(16.4,276.0) scale(0.93,1)" font-size="4.1" text-anchor="end" >0.5</text>
<text transform="translate(16.4,263.4) scale(0.93,1)" font-size="4.1" text-anchor="end" >0.6</text>
<text transform="translate(16.4,250.9) scale(0.93,1)" font-size="4.1" text-anchor="end" >0.7</text>
<text transform="translate(537.5,334.6) scale(0.93,1)" font-size="4.1" text-anchor="start" >0</text>
<text transform="translate(537.5,319.4) scale(0.93,1)" font-size="4.1" text-anchor="start" >1</text>
<text transform="translate(537.5,304.3) scale(0.93,1)" font-size="4.1" text-anchor="start" >2</text>
<text transform="translate(537.5,289.1) scale(0.93,1)" font-size="4.1" text-anchor="start" >3</text>
<text transform="translate(537.5,274.0) scale(0.93,1)" font-size="4.1" text-anchor="start" >4</text>
<text transform="translate(537.5,258.8) scale(0.93,1)" font-size="4.1" text-anchor="start" >5</text>
<text transform="translate(537.5,243.7) scale(0.93,1)" font-size="4.1" text-anchor="start" >6</text>
<text transform="translate(78.4,343.2) scale(0.93,1)" font-size="4.1" text-anchor="middle" >03:26:40</text>
<text transform="translate(170.7,343.2) scale(0.93,1)" font-size="4.1" text-anchor="middle" >03:28:20</text>
<text transform="translate(263.0,343.2) scale(0.93,1)" font-size="4.1" text-anchor="middle" >03:30</text>
<text transform="translate(355.3,343.2) scale(0.93,1)" font-size="4.1" text-anchor="middle" >03:31:40</text>
<text transform="translate(447.6,343.2) scale(0.93,1)" font-size="4.1" text-anchor="middle" >03:33:20</text>
<text transform="translate(277.4,349.1) scale(0.93,1)" font-size="4.1" text-anchor="middle" >Time [UTC]</text>
<text transform="translate(7.8,288.7) rotate(-90) scale(0.93,1)" font-size="4.1" text-anchor="middle">time [s]</text>
<rect x="480.4" y="240.6" width="53.60000000000002" height="31.00000000000003" rx="0.6" fill="#fff" fill-opacity="0.8" stroke="#ccc" stroke-width="0.3"/>
<path d="M482.0,244.0H490.0" stroke="#0000ff" stroke-width="0.75"/>
<text transform="translate(492.8,245.7) scale(0.93,1)" font-size="4.1" text-anchor="start" >broadcast_time</text>
<path d="M482.0,250.2H490.0" stroke="#ffa500" stroke-width="0.75"/>
<text transform="translate(492.8,251.9) scale(0.93,1)" font-size="4.1" text-anchor="start" >query_time (right)</text>
<path d="M482.0,256.5H490.0" stroke="#008000" stroke-width="0.75"/>
<text transform="translate(492.8,258.2) scale(0.93,1)" font-size="4.1" text-anchor="start" >process_time</text>
<path d="M482.0,262.6H490.0" stroke="#ff0000" stroke-width="0.75"/>
<text transform="translate(492.8,264.3) scale(0.93,1)" font-size="4.1" text-anchor="start" >total_time (right)</text>
<path d="M482.0,268.7H490.0" stroke="#000000" stroke-width="0.75"/>
<text transform="translate(492.8,270.4) scale(0.93,1)" font-size="4.1" text-anchor="start" >interval_time (right)</text>
<polyline points="42.2,323.0 44.8,321.6 47.5,317.9 49.5,315.7 51.4,320.1 53.6,324.5 55.8,325.2 57.7,314.2 59.5,320.8 61.7,316.4 64.6,321.6 66.8,326.0 68.6,315.7 71.2,323.0 73.4,314.2 76.4,321.6 78.6,325.2 80.8,315.7 83.7,319.4 86.7,321.6 88.9,309.8 91.8,317.9 94.7,322.3 96.9,312.0 99.9,313.5 102.8,314.2 104.7,307.6 106.5,316.4 108.7,318.6 110.0,324.7 111.2,311.5 113.7,315.9 116.6,319.6 118.8,310.8 121.0,315.2 124.0,318.8 126.9,323.2 129.1,313.7 132.0,318.8 135.0,324.0 136.4,322.5 137.9,310.0 140.8,312.2 144.5,315.2 146.7,311.5 148.9,315.2 151.9,319.6 154.0,313.7 155.8,318.8 157.7,324.7 159.2,314.4 162.1,316.6 165.1,319.6 168.7,322.5 170.9,313.7 173.9,319.6 176.8,324.0 178.3,321.8 179.8,312.2 182.7,315.9 184.9,317.4 185.5,310.0 187.2,314.4 189.4,319.6 191.6,310.0 193.5,305.6 196.0,317.4 198.2,323.2 200.4,315.9 203.4,319.6 206.3,321.8 208.5,318.8 211.1,324.7 213.6,315.2 216.6,319.6 219.5,326.2 222.0,318.8 224.4,310.0 226.9,319.6 229.1,324.0 230.8,314.4 233.2,319.6 235.2,324.7 236.7,313.7 239.0,319.6 240.8,323.2 242.3,313.0 244.5,319.6 245.9,322.5 247.4,314.4 249.6,319.6 251.4,323.2 252.8,313.7 255.2,318.8 256.7,299.7 258.4,318.8 260.6,323.2 262.1,326.2 262.8,316.6 264.4,311.5 266.6,315.9 268.8,320.3 270.6,323.2 272.0,313.0 274.7,316.6 277.6,320.3 279.8,322.5 281.7,310.0 284.2,314.4 287.2,316.6 290.1,319.6 292.0,323.2 293.5,313.0 296.0,315.2 297.9,313.7 299.6,299.7 301.4,312.2 304.1,316.6 306.7,321.8 308.2,324.7 309.6,311.5 312.1,315.9 315.1,321.8 317.0,324.7 318.4,316.6 320.9,317.4 323.1,297.5 325.3,313.7 327.3,324.7 329.0,313.7 331.5,290.0 333.4,313.0 335.6,320.3 337.8,322.5 340.9,323.2 343.8,324.7 345.6,315.9 348.2,318.1 351.2,323.2 353.4,320.3 356.3,315.2 358.5,314.4 361.4,319.6 363.6,323.2 365.1,313.7 367.3,318.1 369.5,323.2 371.4,313.7 373.5,317.4 375.8,319.6 377.9,322.5 380.2,324.7 382.3,314.4 384.6,317.4 387.1,315.2 389.0,316.6 391.1,302.7 393.0,315.9 395.2,318.1 397.4,315.9 399.6,314.4 402.3,318.1 404.8,321.0 407.0,323.2 408.9,317.4 410.6,323.2 412.2,317.4 414.4,318.8 416.6,315.2 418.1,316.6 419.5,307.1 421.0,317.4 422.5,321.8 424.4,319.6 425.4,302.7 426.4,280.0 429.1,305.6 430.6,317.4 432.0,324.0 433.8,315.2 436.4,318.1 439.4,321.0 442.3,316.6 445.2,314.4 448.2,318.1 450.4,319.6 451.9,310.0 453.0,285.0 455.5,302.7 457.7,307.1 459.9,316.6 462.1,321.8 463.6,310.0 465.8,313.7 468.0,318.1 470.2,322.5 471.7,307.1 473.9,313.0 476.1,319.6 477.5,320.3 479.0,314.4 482.0,309.3 484.2,313.7 486.4,315.2 489.0,316.0 492.0,321.0 494.0,325.0 496.0,314.0 498.6,280.0 501.0,304.0 503.0,313.0 506.0,315.0 509.0,314.0 511.4,312.0" fill="none" stroke="#ffa500" stroke-width="0.75" stroke-linejoin="round"/>
<polyline points="42.2,313.3 45.5,310.4 47.7,306.7 49.5,304.5 52.2,311.1 54.4,314.1 55.8,318.5 58.0,309.6 60.2,307.4 61.7,312.6 64.6,318.5 66.1,311.1 68.3,307.4 70.5,311.1 72.7,317.0 74.5,308.9 76.8,314.1 79.3,319.2 81.8,311.1 83.3,307.4 85.2,314.1 87.4,308.2 88.6,304.5 91.1,307.4 93.3,314.1 95.5,317.0 97.7,307.4 99.9,306.7 102.1,307.4 104.3,301.6 106.5,309.6 108.0,314.1 110.2,305.2 111.5,310.0 113.7,314.4 115.9,316.6 118.1,305.6 120.3,310.0 123.2,313.0 126.2,315.9 127.6,317.4 129.1,308.6 131.3,309.3 133.5,315.2 135.7,317.4 137.2,305.6 139.4,304.9 142.3,307.1 146.0,307.8 148.9,313.0 151.1,317.4 152.6,309.3 154.8,312.2 157.0,318.1 158.5,307.1 160.7,308.6 163.6,310.0 166.5,312.2 169.5,316.6 170.9,307.1 173.1,312.2 175.3,315.9 177.5,318.1 179.0,307.1 181.2,310.8 183.4,313.7 185.2,307.1 186.8,313.7 189.4,310.0 192.3,304.2 193.5,301.2 196.0,313.0 198.2,315.9 200.4,309.3 203.4,312.2 206.7,318.8 208.5,310.8 210.7,313.7 212.9,317.4 214.4,310.0 216.6,313.7 219.5,317.4 221.7,312.2 224.4,305.6 226.9,312.2 229.1,318.1 230.8,307.1 232.7,312.2 234.9,317.4 236.4,307.1 238.6,313.0 240.5,317.4 242.0,307.8 243.7,313.7 245.5,316.6 247.0,308.6 248.9,313.0 250.8,317.4 252.5,307.8 254.8,313.0 256.7,291.7 258.4,313.0 260.6,317.4 262.1,323.2 263.6,310.0 264.4,306.4 266.6,310.8 268.8,313.7 270.3,316.6 271.7,307.8 274.7,311.5 277.6,315.9 279.8,318.1 281.7,305.6 284.2,308.6 287.2,311.5 290.1,315.2 292.0,318.1 293.5,307.1 296.0,310.0 297.9,307.1 299.6,295.3 301.4,307.1 303.3,312.2 306.3,317.4 307.7,320.3 309.2,307.1 312.1,310.0 315.1,316.6 316.5,319.6 318.0,310.8 320.9,312.2 323.1,293.1 325.3,307.1 326.8,318.1 329.0,305.6 331.5,277.0 333.4,302.7 334.9,310.0 337.2,315.2 340.1,316.6 343.1,318.8 344.5,308.6 346.7,306.4 349.0,311.5 350.4,315.2 352.6,308.6 355.6,305.6 358.5,308.6 360.7,311.5 362.9,313.7 364.4,307.1 366.6,310.0 368.8,315.2 370.5,307.8 372.4,312.2 374.6,315.9 376.9,318.8 379.1,312.2 382.0,304.2 384.2,307.8 386.4,307.1 388.6,305.6 391.1,290.2 393.0,307.1 395.2,310.8 397.4,312.2 399.3,308.6 401.8,310.8 404.0,313.0 406.2,315.2 408.4,314.4 410.6,308.6 412.2,309.3 414.4,310.0 416.6,312.2 418.1,313.7 419.5,296.8 421.0,305.6 422.5,307.1 424.7,295.3 426.4,272.0 429.1,296.8 430.6,310.0 432.0,319.6 433.5,307.1 436.4,310.0 439.4,310.0 442.3,307.1 445.2,310.0 448.2,313.7 450.4,315.9 451.9,302.7 453.0,281.0 454.8,295.3 457.0,302.7 459.2,305.6 461.4,307.1 463.6,302.7 465.8,307.1 468.0,311.5 470.2,315.2 471.4,289.5 473.1,305.6 475.3,314.4 476.8,320.3 478.3,310.0 480.5,302.7 482.7,302.0 484.9,304.9 486.9,309.0 489.8,307.5 493.5,306.1 496.4,307.5 498.6,271.0 501.6,304.6 505.2,306.1 508.1,304.6 511.4,302.4" fill="none" stroke="#ff0000" stroke-width="0.75" stroke-linejoin="round"/>
<polyline points="42.6,332.6 43.6,304.7 44.8,301.0 46.3,300.8 48.5,297.9 50.7,299.4 53.6,305.2 56.6,305.2 58.8,308.2 62.4,306.0 66.1,306.0 69.0,303.0 72.0,308.9 75.6,305.2 78.6,307.4 82.3,301.6 84.5,304.5 86.7,303.0 88.9,306.0 91.8,305.2 94.7,306.7 97.7,305.2 100.6,301.6 102.8,300.8 105.0,295.7 107.2,301.6 109.4,304.5 112.9,305.6 115.9,304.2 118.8,305.6 121.7,304.9 124.7,302.7 127.6,304.9 131.3,306.4 134.2,307.1 137.2,303.4 140.1,302.7 143.0,303.4 146.0,300.5 148.9,296.8 151.1,302.7 152.6,306.4 155.5,305.6 158.5,304.9 161.4,303.4 164.3,302.0 166.5,304.9 168.7,302.7 171.7,304.9 174.6,306.4 177.5,305.6 179.8,304.2 182.0,306.4 184.9,304.2 187.9,304.2 190.1,299.7 191.2,288.0 193.8,280.0 196.5,300.0 197.5,295.0 199.2,282.2 201.2,290.0 201.9,302.7 204.1,304.2 206.3,307.1 209.2,306.4 212.2,305.6 214.4,306.4 215.8,288.0 217.6,278.5 219.5,306.4 220.2,288.0 224.4,242.0 226.1,288.0 226.9,302.7 228.3,306.4 230.5,305.6 233.5,306.4 235.7,305.6 239.3,306.4 243.0,304.9 246.7,306.4 251.1,306.4 254.8,306.4 257.0,302.7 259.2,307.1 261.4,309.3 262.9,309.3 265.9,305.6 268.8,307.1 271.7,304.9 274.7,303.4 278.4,303.4 281.3,304.2 284.2,304.9 287.9,304.2 290.8,303.4 293.8,305.6 296.7,304.2 298.6,302.5 299.6,294.5 300.6,302.5 302.6,303.4 305.5,304.9 308.5,305.6 311.4,304.9 314.3,304.2 317.3,307.1 320.2,302.7 321.7,288.0 323.1,282.5 325.3,288.0 327.5,304.2 329.0,295.3 331.5,270.7 333.1,292.4 334.2,299.0 336.4,297.5 337.2,302.7 339.4,301.2 341.6,304.2 343.1,293.9 344.1,288.0 345.3,298.3 347.5,305.6 349.7,304.9 352.6,299.0 355.6,300.5 358.5,304.2 361.4,306.4 364.4,307.1 367.3,304.2 370.2,306.4 373.2,304.2 376.1,308.6 379.1,306.4 382.0,302.7 384.9,305.6 387.9,302.7 390.1,296.8 391.1,288.8 392.6,302.7 395.2,304.2 397.4,305.6 399.6,308.6 401.8,304.2 404.0,306.4 407.0,302.7 409.2,304.2 411.4,307.1 412.2,307.1 413.7,298.3 415.1,287.3 416.6,296.8 418.1,302.7 421.0,301.2 423.2,302.0 424.7,288.0 426.4,269.0 429.1,292.4 431.3,301.2 434.2,304.9 437.2,302.7 440.1,301.2 443.0,302.7 446.0,304.9 448.9,305.6 451.1,304.2 451.9,288.0 453.0,278.5 455.5,293.9 457.7,300.5 460.7,299.0 462.9,302.7 465.8,305.6 468.7,307.1 471.7,305.6 474.6,302.7 476.8,305.6 479.0,302.7 481.2,299.0 482.7,298.3 484.6,292.4 486.4,301.2 489.0,305.0 492.0,304.0 494.4,306.0 496.7,303.0 498.6,267.9 501.6,301.6 503.0,302.4 505.2,303.9 507.4,301.6 509.6,302.4 511.1,303.9" fill="none" stroke="#000000" stroke-width="0.75" stroke-linejoin="round"/>
<text x="301" y="350.2" font-family="'Liberation Serif','DejaVu Serif',serif" font-weight="bold" font-size="11.7" text-anchor="middle" fill="#111" style="stroke:#111;stroke-width:.2px">(c)</text>
</g>
</svg></body></html>
